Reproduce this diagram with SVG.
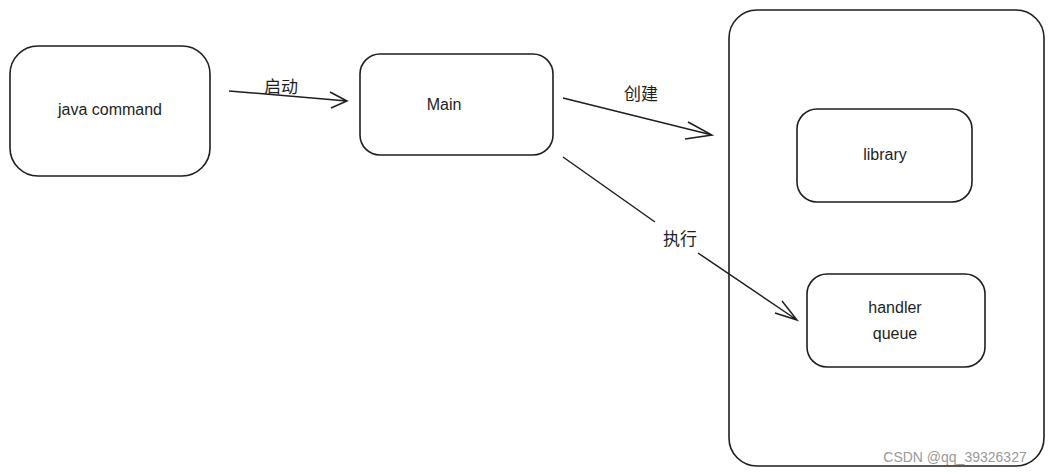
<svg xmlns="http://www.w3.org/2000/svg" width="1054" height="474" viewBox="0 0 1054 474">
<style>
.n{fill:#fff;stroke:#1e1e1e;stroke-width:1.6}
.t{font-family:"Liberation Sans",sans-serif;font-size:16px;fill:#1e1e1e;text-anchor:middle}
.c{stroke:#1e1e1e;stroke-width:1.5;fill:none}
.l{font-family:"Noto Sans CJK SC",sans-serif;font-size:17px;fill:#1e1e1e;text-anchor:middle}
</style>
<rect width="1054" height="474" fill="#fff"/>
<g id="container"><rect class="n" x="729" y="10" width="315" height="456" rx="28"/></g>
<g id="java"><rect class="n" x="10" y="46" width="200" height="130" rx="28"/><text class="t" x="110" y="115">java command</text></g>
<g id="main"><rect class="n" x="360" y="54" width="193" height="101" rx="20"/><text class="t" x="444" y="110">Main</text></g>
<g id="library"><rect class="n" x="797" y="109" width="175" height="93" rx="20"/><text class="t" x="885" y="160">library</text></g>
<g id="handler"><rect class="n" x="807" y="274" width="178" height="93" rx="20"/><text class="t" x="895" y="313">handler</text><text class="t" x="895" y="339">queue</text></g>
<g id="connectors">
<path class="c" d="M229 91 L347 101 M330 92 L347 101 L331 108"/>
<text class="l" x="281" y="93">启动</text>
<path class="c" d="M563 98 L712 135 M688 122 L712 135 L685 139"/>
<text class="l" x="641" y="100">创建</text>
<path class="c" d="M563 157 L655 222 M698 253 L797 320 M782 301 L797 320 L775 313"/>
<text class="l" x="680" y="245">执行</text>
</g>
<text x="955" y="462" font-family="Liberation Sans,sans-serif" font-size="14" fill="#999" text-anchor="middle">CSDN @qq_39326327</text>
</svg>
